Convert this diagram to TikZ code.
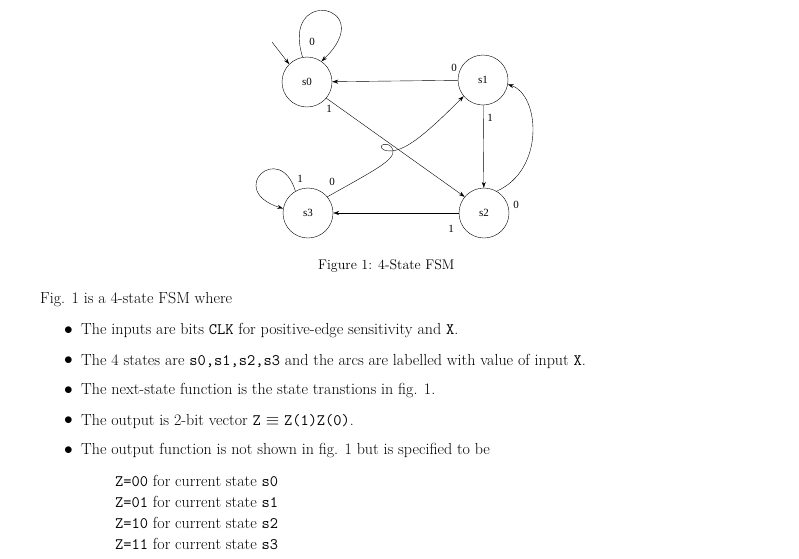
\documentclass[tikz,border=0pt]{standalone}
\usepackage{fontspec}
\newfontfamily\tms{Liberation Serif}
\usetikzlibrary{arrows.meta}
\begin{document}
\begin{tikzpicture}[x=1pt,y=-1pt,
  st/.style={circle,draw,minimum size=50pt,inner sep=0pt,font=\tms\fontsize{11}{12}\selectfont},
  lab/.style={font=\tms\fontsize{11}{12}\selectfont,inner sep=0pt},
  tr/.style={-{Stealth[length=6pt,width=4pt]},thin},
  txt/.style={anchor=west,inner sep=0pt,font=\fontsize{16}{18}\selectfont}]
\useasboundingbox (0,0) rectangle (799,558);
\node[st] (s0) at (307,82) {s0};
\node[st] (s1) at (483,80) {s1};
\node[st] (s2) at (484,213) {s2};
\node[st] (s3) at (308,213) {s3};
\coordinate (i) at (272,42);
\draw[tr] (i) -- (s0.135);
\draw[tr] (s0.100) .. controls (280,-15) and (380,5) .. (s0.55);
\draw[tr] (s3.120) .. controls (280,140) and (225,190) .. (s3.170);
\draw[tr] (s1) -- (s0);
\draw[tr] (s1) -- (s2);
\draw[tr] (s2) -- (s3);
\draw[tr] (s0.-40) -- (s2.140);
\draw[tr] (s2.60) .. controls (545,170) and (540,95) .. (s1.-10);
\draw[tr] (s3.40) .. controls (375,170) and (395,160) .. (393,150)
  .. controls (390,140) and (375,145) .. (384,150)
  .. controls (400,155) and (420,140) .. (s1.220);
\node[lab] (l1) at (312,42) {0};
\node[lab] (l2) at (454,68) {0};
\node[lab] (l3) at (329,109) {1};
\node[lab] (l4) at (490,118) {1};
\node[lab] (l5) at (516,205) {0};
\node[lab] (l6) at (451,229) {1};
\node[lab] (l7) at (300,179) {1};
\node[lab] (l8) at (332,182) {0};
\node[txt,font=\fontsize{14}{16}\selectfont] (cap) at (318,266) {Figure 1: 4-State FSM};
\node[txt] (t0) at (40,300) {Fig. 1 is a 4-state FSM where};
\foreach \y/\t in {331/{The inputs are bits \texttt{CLK} for positive-edge sensitivity and \texttt{X}.},
  361/{The 4 states are \texttt{s0,s1,s2,s3} and the arcs are labelled with value of input \texttt{X}.},
  391/{The next-state function is the state transtions in fig. 1.},
  421/{The output is 2-bit vector \texttt{Z} $\equiv$ \texttt{Z(1)Z(0)}.},
  451/{The output function is not shown in fig. 1 but is specified to be}}{
  \node[txt] at (64,\y) {$\bullet$};
  \node[txt] at (81,\y) {\t};
}
\foreach \y/\z/\s in {481/00/s0,502/01/s1,523/10/s2,544/11/s3}{
  \node[txt] at (115,\y) {\texttt{Z=\z} for current state \texttt{\s}};
}
\end{tikzpicture}
\end{document}
